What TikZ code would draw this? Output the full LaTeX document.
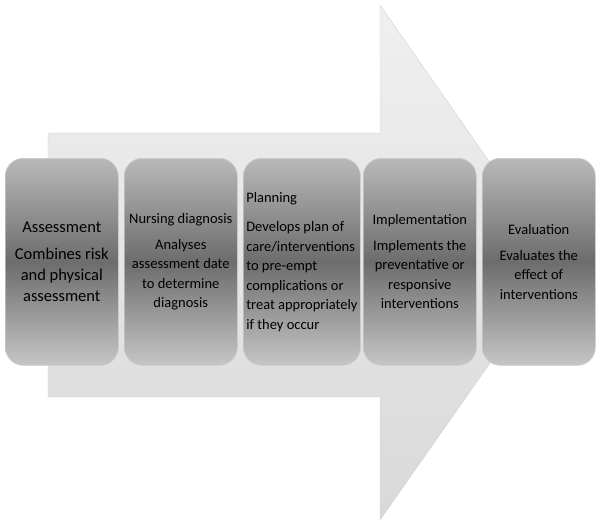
\documentclass[tikz,border=0pt]{standalone}
\usepackage{fontspec}
\setmainfont{Carlito}
\begin{document}
\begin{tikzpicture}[x=1pt,y=-1pt,
  stage/.style={rounded corners=18pt, minimum width=113pt, minimum height=207pt,
    top color=gray!55, bottom color=gray!45, middle color=gray!85!black, shading angle=0,
    draw=gray!40, line width=0.6pt, align=center, inner sep=3pt,
    font=\fontsize{14.5}{19.5}\selectfont, anchor=north west}]
\useasboundingbox (0,0) rectangle (600,525);
\fill[white] (0,0) rectangle (600,525);
\shade[top color=gray!12, bottom color=gray!30, draw=gray!35]
  (48,133) -- (380,133) -- (380,5) -- (560,263) -- (380,520) -- (380,397) -- (48,397) -- cycle;
\node[stage, font=\fontsize{16.5}{21}\selectfont] (a) at (5,158) {Assessment\\[6pt]Combines risk\\and physical\\assessment};
\node[stage] (b) at (124,158) {Nursing diagnosis\\[6pt]Analyses\\assessment date\\to determine\\diagnosis};
\node[stage, align=left] (c) at (243,158) {Planning\\[10pt]Develops plan of\\care/interventions\\to pre-empt\\complications or\\treat appropriately\\if they occur};
\node[stage] (d) at (363,158) {Implementation\\[6pt]Implements the\\preventative or\\responsive\\interventions};
\node[stage] (e) at (482,158) {Evaluation\\[6pt]Evaluates the\\effect of\\interventions};
\end{tikzpicture}
\end{document}
